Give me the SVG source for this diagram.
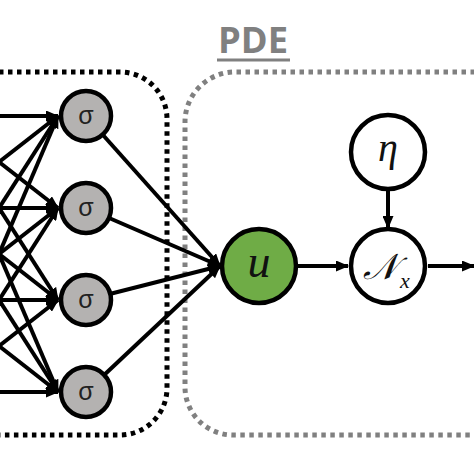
<svg xmlns="http://www.w3.org/2000/svg" width="474" height="474" viewBox="0 0 474 474">
<style>
.ln{stroke:#000;stroke-width:4;fill:none;marker-end:url(#ah)}
.nd{stroke:#000;stroke-width:4.5}
.sig{fill:#b4b2b1}
.st{font-family:"Liberation Sans",Arial,sans-serif;font-size:25px;fill:#222;text-anchor:middle}
.mt{font-family:"Liberation Serif","DejaVu Serif",serif;font-style:italic;fill:#111;text-anchor:middle}
</style>
<defs>
<marker id="ah" markerWidth="13" markerHeight="11" refX="12" refY="5.5" orient="auto" markerUnits="userSpaceOnUse">
<path d="M0,0 L13,5.5 L0,11 Z" fill="#000"/>
</marker>
</defs>
<rect width="474" height="474" fill="#fff"/>
<g id="boxes">
<path d="M -10 72 H 120 A 47 47 0 0 1 167 119 V 388 A 47 47 0 0 1 120 435 H -10" fill="none" stroke="#000" stroke-width="5" stroke-dasharray="4.5 4.5"/>
<path d="M 484 72 H 235 A 50 50 0 0 0 185 122 V 387 A 48 48 0 0 0 233 435 H 484" fill="none" stroke="#808080" stroke-width="5" stroke-dasharray="4.5 4.5"/>
</g>
<g id="title">
<text x="253" y="53" font-family="'Open Sans','Liberation Sans',sans-serif" font-weight="bold" font-size="36" fill="#808080" text-anchor="middle" textLength="70" lengthAdjust="spacingAndGlyphs">PDE</text>
<line x1="217" y1="60" x2="290" y2="60" stroke="#808080" stroke-width="3"/>
</g>
<g id="connectors">
<line class="ln" x1="-60" y1="116" x2="58" y2="116"/>
<line class="ln" x1="-60" y1="208" x2="58" y2="116"/>
<line class="ln" x1="-60" y1="300" x2="58" y2="116"/>
<line class="ln" x1="-60" y1="392" x2="58" y2="116"/>
<line class="ln" x1="-60" y1="116" x2="58" y2="208"/>
<line class="ln" x1="-60" y1="208" x2="58" y2="208"/>
<line class="ln" x1="-60" y1="300" x2="58" y2="208"/>
<line class="ln" x1="-60" y1="392" x2="58" y2="208"/>
<line class="ln" x1="-60" y1="116" x2="58" y2="300"/>
<line class="ln" x1="-60" y1="208" x2="58" y2="300"/>
<line class="ln" x1="-60" y1="300" x2="58" y2="300"/>
<line class="ln" x1="-60" y1="392" x2="58" y2="300"/>
<line class="ln" x1="-60" y1="116" x2="58" y2="392"/>
<line class="ln" x1="-60" y1="208" x2="58" y2="392"/>
<line class="ln" x1="-60" y1="300" x2="58" y2="392"/>
<line class="ln" x1="-60" y1="392" x2="58" y2="392"/>
<line class="ln" x1="86" y1="116" x2="220" y2="266"/>
<line class="ln" x1="86" y1="208" x2="220" y2="266"/>
<line class="ln" x1="86" y1="300" x2="220" y2="266"/>
<line class="ln" x1="86" y1="392" x2="220" y2="266"/>
<line class="ln" x1="298" y1="266" x2="348" y2="266"/>
<line class="ln" x1="388" y1="191" x2="388" y2="228"/>
<line class="ln" x1="428" y1="266" x2="474" y2="266"/>
</g>
<g id="sigma1"><circle class="nd sig" cx="86" cy="116" r="25"/><text class="st" x="86" y="124">σ</text></g>
<g id="sigma2"><circle class="nd sig" cx="86" cy="208" r="25"/><text class="st" x="86" y="216">σ</text></g>
<g id="sigma3"><circle class="nd sig" cx="86" cy="300" r="25"/><text class="st" x="86" y="308">σ</text></g>
<g id="sigma4"><circle class="nd sig" cx="86" cy="392" r="25"/><text class="st" x="86" y="400">σ</text></g>
<g id="u"><circle class="nd" cx="259" cy="266" r="37" fill="#6fac46"/><text class="mt" x="259" y="277" font-size="46">u</text></g>
<g id="eta"><circle class="nd" cx="388" cy="152" r="37" fill="#fff"/><text class="mt" x="388" y="161" font-size="40">η</text></g>
<g id="Nx"><circle class="nd" cx="388" cy="266" r="37" fill="#fff"/><text class="mt" x="380" y="279" font-size="36">𝒩</text><text class="mt" x="405" y="288" font-size="22">x</text></g>
</svg>
